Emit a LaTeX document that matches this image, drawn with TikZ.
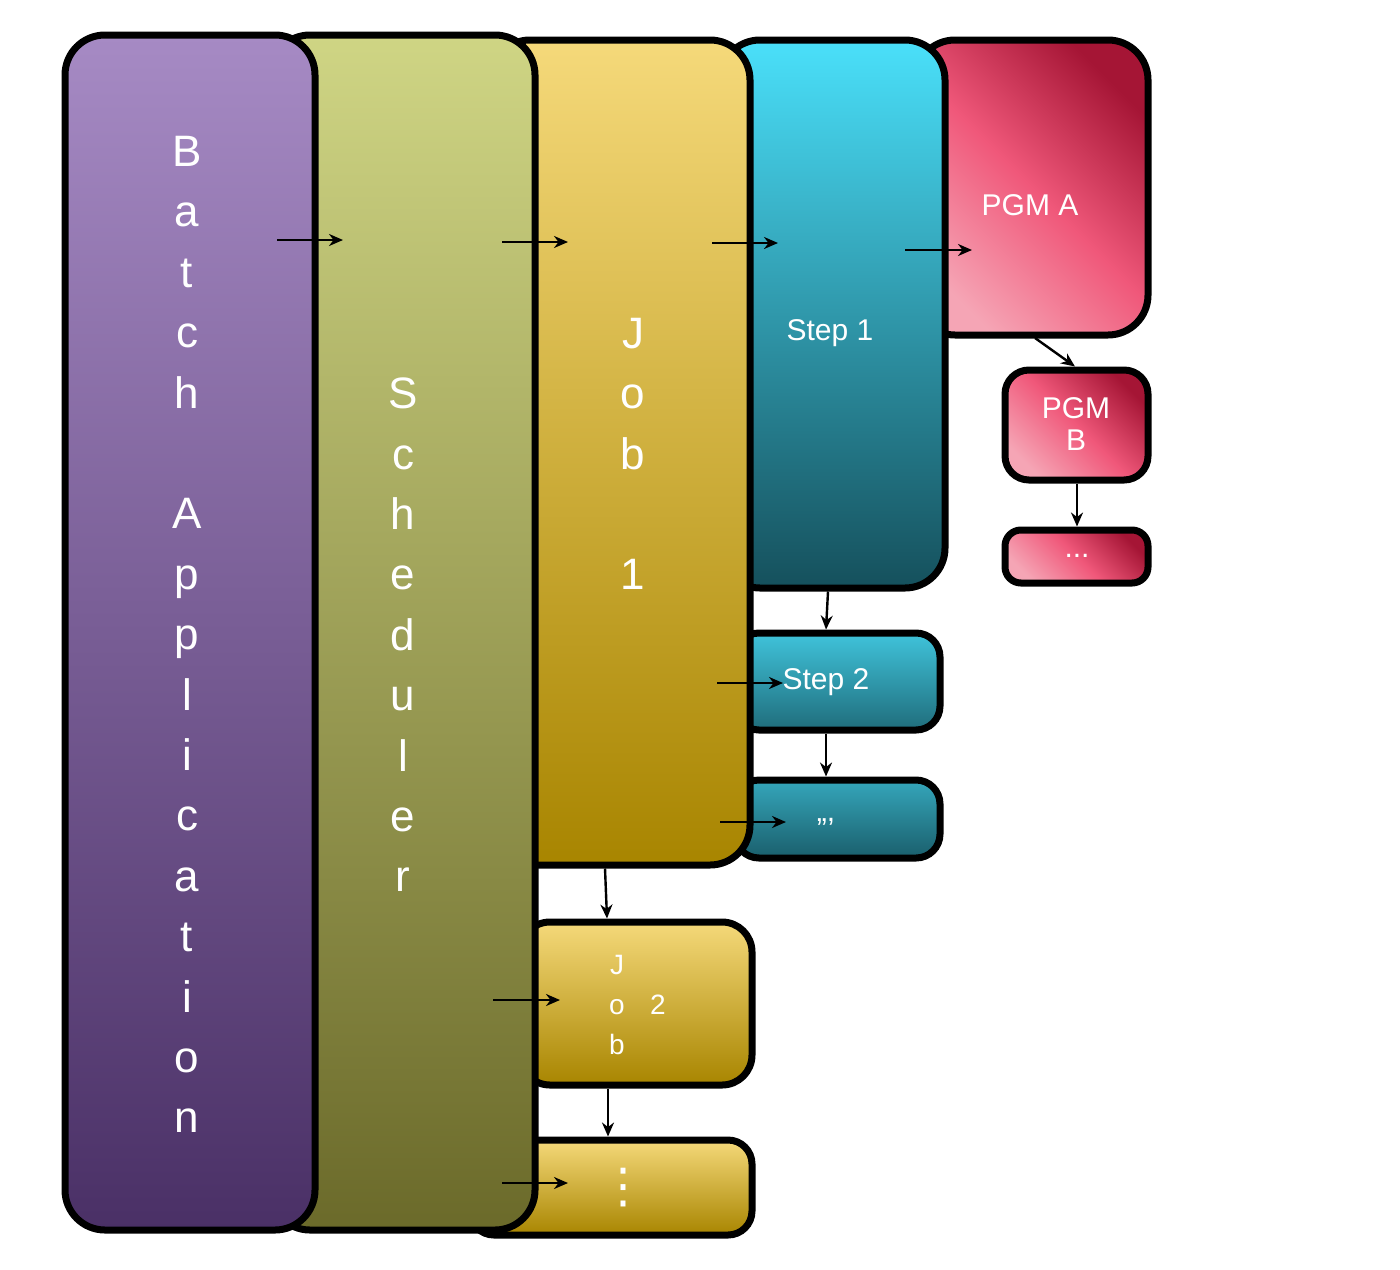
\documentclass[tikz,border=0pt]{standalone}
\usepackage{fontspec}
\setmainfont{Liberation Sans}
\newfontfamily\djv{DejaVu Sans}
\usetikzlibrary{arrows.meta}
\definecolor{purT}{HTML}{A68AC4}\definecolor{purB}{HTML}{4A3066}
\definecolor{olvT}{HTML}{CFD584}\definecolor{olvB}{HTML}{6B6A2A}
\definecolor{yelT}{HTML}{F5D97A}\definecolor{yelM}{HTML}{F0BE14}\definecolor{yelB}{HTML}{A88500}
\definecolor{cyaT}{HTML}{4AE0FA}\definecolor{cyaB}{HTML}{15505C}
\definecolor{pnkT}{HTML}{F0587A}\definecolor{pnkL}{HTML}{F5A5B5}\definecolor{pnkD}{HTML}{A51535}
\tikzset{
 box/.style={draw=black, line width=3.5pt, inner sep=0pt, rounded corners=#1},
 box/.default=20pt,
 pinkfill/.style={left color=pnkL, right color=pnkD, middle color=pnkT, shading angle=135},
 yelfill/.style={top color=yelT, middle color=yelM, bottom color=yelB},
 lbl/.style={text=white, align=center, inner sep=0pt},
 arr/.style={line width=1.2pt, -{Stealth[length=7pt,width=6pt]}},
}
\begin{document}
\begin{tikzpicture}[x=0.5pt,y=-0.5pt]
\useasboundingbox (0,0) rectangle (1400,1269);
% back to front
\node[box, minimum width=116.5pt, minimum height=147.5pt, pinkfill] (pgma) at (1031.5,187.5) {};
\node[box, minimum width=112.5pt, minimum height=274pt, top color=cyaT, bottom color=cyaB] (step1) at (832.5,314) {};
\node[box=12pt, minimum width=102.5pt, minimum height=48.5pt, top color=cyaT!80!cyaB, bottom color=cyaB!80!cyaT] (step2) at (837.5,681.5) {};
\node[box=12pt, minimum width=102.5pt, minimum height=39pt, top color=cyaT!60!cyaB, bottom color=cyaB!90!cyaT] (stepn) at (837.5,819) {};
\node[box, minimum width=130pt, minimum height=412.5pt, yelfill] (job1) at (620,452.5) {};
\node[box=15pt, minimum width=116pt, minimum height=81.5pt, yelfill] (job2) at (636,1003.5) {};
\node[box=12pt, minimum width=141pt, minimum height=47.5pt, yelfill] (jobn) at (611,1187.5) {};
\node[box, minimum width=132.5pt, minimum height=597.5pt, top color=olvT, bottom color=olvB] (sched) at (402.5,632.5) {};
\node[box, minimum width=125pt, minimum height=597.5pt, top color=purT, bottom color=purB] (batch) at (190,632.5) {};
\node[box=12pt, minimum width=71.5pt, minimum height=55pt, pinkfill] (pgmb) at (1076.5,425) {};
\node[box=8pt, minimum width=71.5pt, minimum height=26.5pt, pinkfill] (pgmn) at (1076.5,556.5) {};
% labels
\node[lbl, font=\fontsize{22}{30.2}\selectfont] at (187,634.5) {B\\a\\t\\c\\h\\\mbox{}\\A\\p\\p\\l\\i\\c\\a\\t\\i\\o\\n};
\node[lbl, font=\fontsize{22}{30.2}\selectfont] at (403,635) {S\\c\\h\\e\\d\\u\\l\\e\\r};
\node[lbl, font=\fontsize{22}{30.2}\selectfont] at (633,454) {J\\o\\b\\\mbox{}\\1};
\node[lbl, font=\fontsize{15}{16}\selectfont] at (830,333) {Step 1};
\node[lbl, font=\fontsize{15}{16}\selectfont] at (1030,205) {PGM A};
\node[lbl, font=\fontsize{15}{16}\selectfont] at (1076,424) {PGM\\B};
\node[lbl, font=\fontsize{15}{16}\selectfont] at (1077,556) {...};
\node[lbl, font=\fontsize{15}{16}\selectfont] at (826,682) {Step 2};
\node[lbl, font=\fontsize{15}{16}\selectfont] at (826,822) {,,,};
\node[lbl, font=\fontsize{14}{20}\selectfont] at (617,1005) {J\\o\\b};
\node[lbl, font=\fontsize{14}{20}\selectfont] at (658,1005) {2};
\node[lbl, font=\djv\fontsize{24}{24}\selectfont] at (623,1188) {⋮};
% arrows
\coordinate (a1) at (277,240); \coordinate (b1) at (343,240);
\coordinate (a2) at (502,242); \coordinate (b2) at (568,242);
\coordinate (a3) at (712,243); \coordinate (b3) at (778,243);
\coordinate (a4) at (905,250); \coordinate (b4) at (972,250);
\coordinate (a5) at (717,683); \coordinate (b5) at (783,683);
\coordinate (a6) at (720,822); \coordinate (b6) at (786,822);
\coordinate (a7) at (493,1000); \coordinate (b7) at (560,1000);
\coordinate (a8) at (502,1183); \coordinate (b8) at (568,1183);
\foreach \i in {1,...,8} \draw[arr] (a\i) -- (b\i);
\draw[arr] (1035,338) -- (pgmb.north west -| 1075,0);
\draw[arr] (pgmb.south -| 1077,0) -- (pgmn.north -| 1077,0);
\draw[arr] (step1.south -| 828,0) -- (step2.north -| 826,0);
\draw[arr] (step2.south -| 826,0) -- (stepn.north -| 826,0);
\draw[arr] (job1.south -| 605,0) -- (job2.north -| 607,0);
\draw[arr] (job2.south -| 608,0) -- (jobn.north -| 608,0);
\end{tikzpicture}
\end{document}
